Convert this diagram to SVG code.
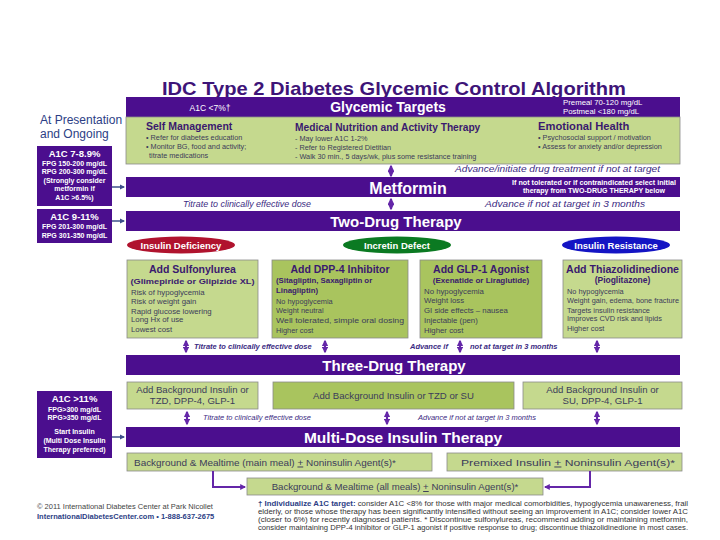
<svg xmlns="http://www.w3.org/2000/svg" width="720" height="540" viewBox="0 0 720 540">
<style>
text{font-family:"Liberation Sans",Arial,sans-serif}
.band{fill:#4b0e8e}
.bt{fill:#fff;font-weight:bold;text-anchor:middle}
.lg{fill:#c5d98e;stroke:#8a8a8a;stroke-width:0.8}
.dg{fill:#a9c45e;stroke:#8a8a8a;stroke-width:0.8}
.h{fill:#3a1a6e;font-weight:bold}
.s{fill:#3c3c5a;font-size:7.3px}
.it{fill:#3a2a82;font-style:italic}
.bi{fill:#3a2a82;font-style:italic;font-weight:bold;font-size:7.5px}
.lb{fill:#fff;font-weight:bold;text-anchor:middle;font-size:9.5px}
.ls{fill:#fff;font-weight:bold;text-anchor:middle}
.bx{fill:#3a1a6e;font-weight:bold}
.c{text-anchor:middle}
.li{fill:#3c3c5a}
.da{stroke:#6426a8;stroke-width:2.2;fill:none;marker-start:url(#ah);marker-end:url(#ah)}
.ln{stroke:#6426a8;stroke-width:2;fill:none;marker-end:url(#ah)}
.la{stroke:#3d4f8a;stroke-width:1.5;fill:none;marker-end:url(#ah2)}
.ov{fill:#fff;font-weight:bold;font-size:9.5px;text-anchor:middle}
</style>
<defs>
<marker id="ah" viewBox="0 0 10 10" refX="8" refY="5" markerWidth="3" markerHeight="3" orient="auto-start-reverse"><path d="M0,0L10,5L0,10z" fill="#6426a8"/></marker>
<marker id="ah2" viewBox="0 0 10 10" refX="8" refY="5" markerWidth="3.5" markerHeight="3.5" orient="auto"><path d="M0,0L10,5L0,10z" fill="#3d4f8a"/></marker>
</defs>
<rect width="720" height="540" fill="#fff"/>
<text x="394" y="95" text-anchor="middle" font-size="19" font-weight="bold" fill="#3e1478" textLength="464" lengthAdjust="spacingAndGlyphs">IDC Type 2 Diabetes Glycemic Control Algorithm</text>

<g id="left-column">
<text x="40" y="124" font-size="12" fill="#2c3e85">At Presentation</text>
<text x="40" y="138" font-size="12" fill="#2c3e85">and Ongoing</text>
</g>
<g id="box-a1c-7-8" font-size="7">
<rect x="37" y="146" width="75" height="60" class="band"/>
<text x="74.5" y="157" class="lb">A1C  7-8.9%</text>
<text x="74.5" y="166" class="ls">FPG 150-200 mg/dL</text>
<text x="74.5" y="174" class="ls">RPG 200-300 mg/dL</text>
<text x="74.5" y="183" class="ls">(Strongly consider</text>
<text x="74.5" y="191" class="ls">metformin if</text>
<text x="74.5" y="200" class="ls">A1C  &gt;6.5%)</text>
</g>
<g id="box-a1c-9-11" font-size="7">
<rect x="37" y="209" width="75" height="34" class="band"/>
<text x="74.5" y="220" class="lb">A1C 9-11%</text>
<text x="74.5" y="229" class="ls">FPG 201-300 mg/dL</text>
<text x="74.5" y="238" class="ls">RPG 301-350 mg/dL</text>
</g>
<g id="box-a1c-11" font-size="7">
<rect x="37" y="391" width="75" height="67" class="band"/>
<text x="74.5" y="402" class="lb">A1C &gt;11%</text>
<text x="74.5" y="412" class="ls">FPG&gt;300 mg/dL</text>
<text x="74.5" y="420" class="ls">RPG&gt;350 mg/dL</text>
<text x="74.5" y="434" class="ls">Start Insulin</text>
<text x="74.5" y="443" class="ls">(Multi Dose Insulin</text>
<text x="74.5" y="452" class="ls">Therapy preferred)</text>
</g>

<g id="glycemic-targets">
<rect x="126" y="97" width="554" height="20" class="band"/>
<text x="210" y="111" fill="#fff" font-size="8.5" text-anchor="middle">A1C &lt;7%†</text>
<text x="388" y="112" class="bt" font-size="14">Glycemic Targets</text>
<text x="563" y="105" fill="#fff" font-size="7.8">Premeal 70-120 mg/dL</text>
<text x="563" y="114" fill="#fff" font-size="7.8">Postmeal &lt;180 mg/dL</text>
</g>
<g id="lifestyle">
<rect x="126" y="117" width="554" height="47" class="lg"/>
<text x="146" y="130" class="h" font-size="10.5">Self Management</text>
<text x="146" y="140" class="s">• Refer for diabetes education</text>
<text x="146" y="149" class="s">• Monitor BG, food and activity;</text>
<text x="149" y="158" class="s">titrate medications</text>
<text x="295" y="131" class="h" font-size="10.2">Medical Nutrition and Activity Therapy</text>
<text x="295" y="141" class="s">- May lower A1C 1-2%</text>
<text x="295" y="150" class="s">- Refer to Registered Dietitian</text>
<text x="295" y="159" class="s">- Walk 30 min., 5 days/wk, plus some resistance training</text>
<text x="538" y="130" class="h" font-size="11.2">Emotional Health</text>
<text x="538" y="140" class="s">• Psychosocial support / motivation</text>
<text x="538" y="149" class="s">• Assess for anxiety and/or depression</text>
</g>

<g id="metformin">
<rect x="126" y="177" width="554" height="20" class="band"/>
<text x="408" y="194" class="bt" font-size="16">Metformin</text>
<text x="594" y="185" class="ls" font-size="6.6" textLength="164" lengthAdjust="spacingAndGlyphs">If not tolerated or if contraindicated select initial</text>
<text x="594" y="193" class="ls" font-size="6.6" textLength="142" lengthAdjust="spacingAndGlyphs">therapy from TWO-DRUG THERAPY below</text>
</g>
<g id="two-drug">
<rect x="126" y="211" width="554" height="20" class="band"/>
<text x="396" y="227" class="bt" font-size="15">Two-Drug Therapy</text>
</g>
<g id="insulin-deficiency">
<ellipse cx="181" cy="245" rx="54" ry="8.5" fill="#b0132e"/>
<text x="181" y="248.5" class="ov">Insulin Deficiency</text>
</g>
<g id="incretin-defect">
<ellipse cx="397" cy="245" rx="54" ry="8.5" fill="#0b7a22"/>
<text x="397" y="248.5" class="ov">Incretin Defect</text>
</g>
<g id="insulin-resistance">
<ellipse cx="616" cy="245" rx="54" ry="8.5" fill="#1414c4"/>
<text x="616" y="248.5" class="ov">Insulin Resistance</text>
</g>

<g id="sulfonylurea" font-size="7.8">
<rect x="127" y="260" width="131" height="78" class="lg"/>
<text x="192.5" y="273" class="bx c" font-size="10.5">Add Sulfonylurea</text>
<text x="192.5" y="284" class="bx c" font-size="8" textLength="124" lengthAdjust="spacingAndGlyphs">(Glimepiride or Glipizide XL)</text>
<text x="131" y="295" class="li">Risk of hypoglycemia</text>
<text x="131" y="304" class="li">Risk of weight gain</text>
<text x="131" y="314" class="li">Rapid glucose lowering</text>
<text x="131" y="322" class="li">Long Hx of use</text>
<text x="131" y="332" class="li">Lowest cost</text>
</g>
<g id="dpp4" font-size="7.4">
<rect x="272" y="260" width="136" height="78" class="dg"/>
<text x="340" y="273" class="bx c" font-size="10.5">Add DPP-4 Inhibitor</text>
<text x="276" y="283" class="bx" font-size="7.8">(Sitagliptin, Saxagliptin or</text>
<text x="276" y="293" class="bx" font-size="7.8">Linagliptin)</text>
<text x="276" y="304" class="li">No hypoglycemia</text>
<text x="276" y="313" class="li">Weight neutral</text>
<text x="276" y="323" class="li" textLength="128" lengthAdjust="spacingAndGlyphs">Well tolerated, simple oral dosing</text>
<text x="276" y="333" class="li">Higher cost</text>
</g>
<g id="glp1" font-size="7.8">
<rect x="420" y="260" width="122" height="78" class="dg"/>
<text x="481" y="273" class="bx c" font-size="10.5">Add GLP-1 Agonist</text>
<text x="481" y="283" class="bx c" font-size="8">(Exenatide or Liraglutide)</text>
<text x="424" y="294" class="li">No hypoglycemia</text>
<text x="424" y="303" class="li">Weight loss</text>
<text x="424" y="313" class="li">GI side effects – nausea</text>
<text x="424" y="323" class="li">Injectable (pen)</text>
<text x="424" y="333" class="li">Higher cost</text>
</g>
<g id="tzd" font-size="7.4">
<rect x="563" y="260" width="119" height="78" class="lg"/>
<text x="622.5" y="273" class="bx c" font-size="10.5" textLength="113" lengthAdjust="spacingAndGlyphs">Add Thiazolidinedione</text>
<text x="622.5" y="283" class="bx c" font-size="8.5">(Pioglitazone)</text>
<text x="567" y="294" class="li">No hypoglycemia</text>
<text x="567" y="303" class="li" textLength="112" lengthAdjust="spacingAndGlyphs">Weight gain, edema, bone fracture</text>
<text x="567" y="313" class="li">Targets insulin resistance</text>
<text x="567" y="321" class="li">Improves CVD risk and lipids</text>
<text x="567" y="331" class="li">Higher cost</text>
</g>

<g id="three-drug">
<rect x="126" y="355" width="554" height="20" class="band"/>
<text x="394" y="371" class="bt" font-size="15">Three-Drug Therapy</text>
</g>
<g id="three-1" font-size="9.6">
<rect x="127" y="382" width="131" height="27" class="lg"/>
<text x="192.5" y="393" class="li c">Add Background Insulin or</text>
<text x="192.5" y="404" class="li c">TZD, DPP-4, GLP-1</text>
</g>
<g id="three-2" font-size="9.6">
<rect x="273" y="382" width="241" height="27" class="dg"/>
<text x="393.5" y="399" class="li c">Add Background Insulin or TZD or SU</text>
</g>
<g id="three-3" font-size="9.6">
<rect x="523" y="382" width="159" height="27" class="lg"/>
<text x="602.5" y="393" class="li c">Add Background Insulin or</text>
<text x="602.5" y="404" class="li c">SU, DPP-4, GLP-1</text>
</g>

<g id="multi-dose">
<rect x="126" y="427" width="554" height="20" class="band"/>
<text x="403" y="443" class="bt" font-size="15.5">Multi-Dose Insulin Therapy</text>
</g>
<g id="md-1" font-size="9.6">
<rect x="127" y="453" width="305" height="18" class="lg"/>
<text x="134" y="465.5" class="li" textLength="262" lengthAdjust="spacingAndGlyphs">Background &amp; Mealtime (main meal) <tspan text-decoration="underline">+</tspan> Noninsulin Agent(s)*</text>
</g>
<g id="md-2" font-size="9.6">
<rect x="447" y="453" width="235" height="18" class="lg"/>
<text x="461" y="465.5" class="li" textLength="214" lengthAdjust="spacingAndGlyphs">Premixed  Insulin  <tspan text-decoration="underline">+</tspan> Noninsulin Agent(s)*</text>
</g>
<g id="md-3" font-size="9.6">
<rect x="247" y="478" width="296" height="17" class="lg"/>
<text x="395" y="490" class="li c">Background &amp; Mealtime (all meals) <tspan text-decoration="underline">+</tspan> Noninsulin Agent(s)*</text>
</g>

<g id="connectors">
<path class="la" d="M112,187H124"/>
<path class="la" d="M112,221H124"/>
<path class="la" d="M112,437H124"/>
<path class="da" d="M391,166V176"/>
<path class="da" d="M391,199V209"/>
<path class="da" d="M186,341V352"/>
<path class="da" d="M325,341V352"/>
<path class="da" d="M460,341V352"/>
<path class="da" d="M597,341V352"/>
<path class="da" d="M187,412V424"/>
<path class="da" d="M387,412V424"/>
<path class="da" d="M597,412V424"/>
<path class="ln" d="M213,471V487H245"/>
<path class="ln" d="M590,471V487H545"/>
</g>

<g id="labels">
<text x="455" y="172" class="it" font-size="8.8" textLength="205" lengthAdjust="spacingAndGlyphs">Advance/initiate drug treatment if not at target</text>
<text x="183" y="207" class="it" font-size="8.5" textLength="128" lengthAdjust="spacingAndGlyphs">Titrate to clinically effective dose</text>
<text x="485" y="207" class="it" font-size="8.5" textLength="160" lengthAdjust="spacingAndGlyphs">Advance if not at target in 3 months</text>
<text x="194" y="349" class="bi">Titrate to clinically effective dose</text>
<text x="410" y="349" class="bi">Advance if</text>
<text x="470" y="349" class="bi">not at target in 3 months</text>
<text x="203" y="420" class="it" font-size="7.5">Titrate to clinically effective dose</text>
<text x="418" y="420" class="it" font-size="7.5">Advance if not at target in 3 months</text>
</g>

<g id="footer">
<text x="37" y="509" font-size="7.5" fill="#444">© 2011 International Diabetes Center at Park Nicollet</text>
<text x="37" y="519" font-size="7.5" font-weight="bold" fill="#2c3e85">InternationalDiabetesCenter.com • 1-888-637-2675</text>
<g font-size="6.3" fill="#333">
<text x="258" y="506" textLength="430" lengthAdjust="spacingAndGlyphs"><tspan font-weight="bold" fill="#2c3e85">† Individualize A1C target:</tspan> consider A1C &lt;8% for those with major medical comorbidities, hypoglycemia unawareness, frail</text>
<text x="258" y="514" textLength="430" lengthAdjust="spacingAndGlyphs">elderly, or those whose therapy has been significantly intensified without seeing an improvement in A1C; consider lower A1C</text>
<text x="258" y="522" textLength="430" lengthAdjust="spacingAndGlyphs">(closer to 6%) for recently diagnosed patients. * Discontinue sulfonylureas, recommend adding or maintaining metformin,</text>
<text x="258" y="530" textLength="430" lengthAdjust="spacingAndGlyphs">consider maintaining DPP-4 inhibitor or GLP-1 agonist if positive response to drug; discontinue thiazolidinedione in most cases.</text>
</g>
</g>
</svg>
